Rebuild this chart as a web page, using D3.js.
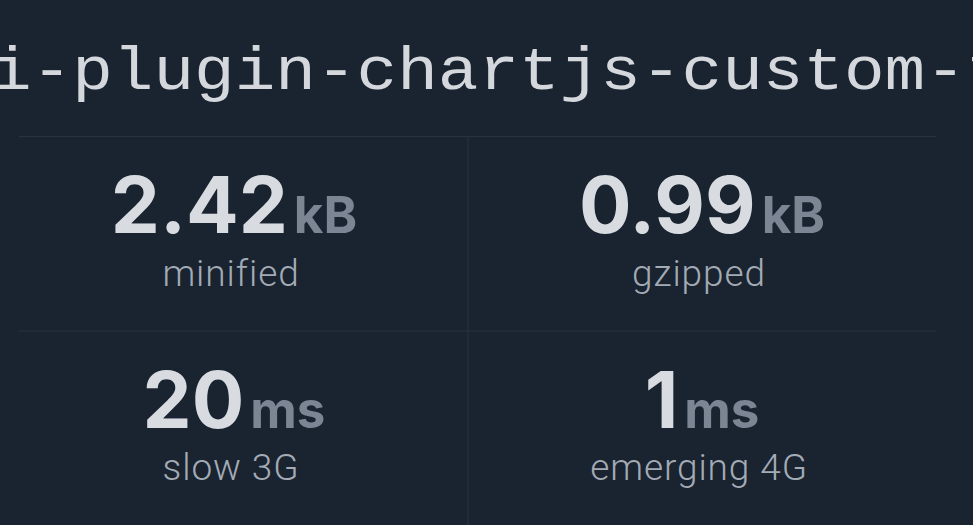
<!DOCTYPE html>
<html>
<head>
<meta charset="utf-8">
<script src="https://cdn.jsdelivr.net/npm/d3@7"></script>
<style>
  html, body { margin: 0; padding: 0; background: #1a2330; overflow: hidden; }
  svg { display: block; }
</style>
</head>
<body>
<svg id="stats"></svg>
<script>
'use strict';

/* ── Data ─────────────────────────────────────────────── */
const packageName = 'i-plugin-chartjs-custom-t';
const statValues  = ['2.42', '0.99', '20', '1'];
const statUnits   = ['kB', 'kB', 'ms', 'ms'];
const statLabels  = ['minified', 'gzipped', 'slow 3G', 'emerging 4G'];
const statCols    = [0, 1, 0, 1];
const statRows    = [0, 0, 1, 1];

/* ── Layout ───────────────────────────────────────────── */
const W = 973, H = 525;
const svg = d3.select('#stats').attr('width', W).attr('height', H);

svg.append('rect').attr('width', W).attr('height', H).attr('fill', '#1a2330');

const xCol = d3.scaleBand().domain([0, 1]).range([0, 936]);
const yRow = d3.scaleBand().domain([0, 1]).range([136.5, 331 + 194.5]);

/* ── Title (monospace, overflows the frame) ── */
svg.append('text')
  .attr('transform', 'translate(-9,89) scale(1,0.9)')
  .attr('font-family', '"Liberation Mono", monospace')
  .attr('font-size', 67.7)
  .attr('fill', '#d4d8dd')
  .text(packageName);

/* ── Grid lines ── */
const lineCol = '#283342';
yRow.domain().forEach(r => {
  svg.append('line')
    .attr('x1', 19).attr('x2', 936)
    .attr('y1', yRow(r)).attr('y2', yRow(r))
    .attr('stroke', lineCol).attr('stroke-width', 1);
});
svg.append('line')
  .attr('x1', xCol(1)).attr('x2', xCol(1))
  .attr('y1', yRow(0)).attr('y2', H)
  .attr('stroke', lineCol).attr('stroke-width', 1);

/* ── Stat cells ── */
statValues.forEach((v, i) => {
  const cx = xCol(statCols[i]) + xCol.bandwidth() / 2;
  const y0 = yRow(statRows[i]);

  const num = svg.append('text')
    .attr('x', cx).attr('y', y0 + 96.5)
    .attr('text-anchor', 'middle')
    .attr('font-family', 'Inter, "Noto Sans", sans-serif');

  num.append('tspan')
    .attr('font-size', 78).attr('font-weight', 700).attr('fill', '#d8dce1')
    .text(v);
  num.append('tspan')
    .attr('dx', 6)
    .attr('font-size', 51).attr('font-weight', 700).attr('fill', '#7b8594')
    .text(statUnits[i]);

  svg.append('text')
    .attr('x', cx - 3).attr('y', y0 + 149)
    .attr('text-anchor', 'middle')
    .attr('font-family', 'Roboto, sans-serif')
    .attr('font-size', 37).attr('font-weight', 300)
    .attr('letter-spacing', 0.9)
    .attr('fill', '#a3abb5')
    .text(statLabels[i]);
});
</script>
</body>
</html>
